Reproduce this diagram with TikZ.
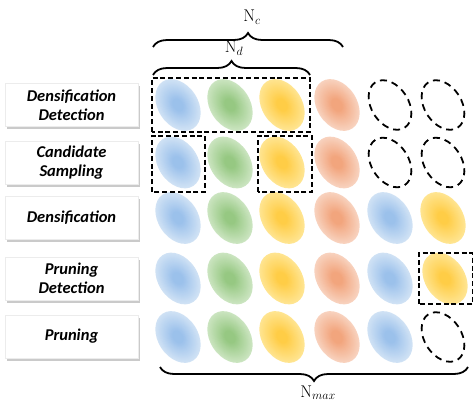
\documentclass[tikz,border=0pt]{standalone}
\usepackage{fontspec}
\newfontfamily\lblfont{Carlito}
\usetikzlibrary{shadows,decorations.pathreplacing}
\definecolor{bIn}{RGB}{155,193,235}\definecolor{bOut}{RGB}{208,226,245}
\definecolor{gIn}{RGB}{150,200,130}\definecolor{gOut}{RGB}{203,229,192}
\definecolor{yIn}{RGB}{255,205,70}\definecolor{yOut}{RGB}{255,229,145}
\definecolor{oIn}{RGB}{242,165,125}\definecolor{oOut}{RGB}{248,210,190}
\tikzset{
  lbl/.style={draw=gray!15, fill=white, minimum width=133pt, minimum height=43pt,
    align=center, font=\lblfont\bfseries\itshape\fontsize{16.5}{19}\selectfont,
    drop shadow={shadow xshift=2pt, shadow yshift=-2.5pt, fill=gray!70, opacity=0.6}},
  dbox/.style={draw=black, line width=1.8pt, dash pattern=on 5pt off 2.8pt},
  dell/.style={draw=black, line width=1.8pt, dash pattern=on 7pt off 5pt},
  brc/.style={draw=black, line width=1.8pt, decorate, decoration={brace, amplitude=14pt}},
  nlab/.style={font=\fontsize{17}{19}\selectfont, inner sep=0pt, anchor=base}
}
\newcommand{\gell}[3]{%
  \foreach \k in {0,...,19}{%
    \pgfmathsetmacro{\p}{\k*100/19}%
    \pgfmathsetmacro{\s}{1-\k/25}%
    \fill[color={#2In!\p!#2Out}, rotate around={-57:(#1)}] (#1) ellipse ({28*\s pt} and {20*\s pt});%
  }}
\newcommand{\dashell}[1]{\draw[dell, rotate around={-57:(#1)}] (#1) ellipse (27pt and 18.5pt);}
\begin{document}
\begin{tikzpicture}[x=1pt,y=1pt]
\useasboundingbox (0,0) rectangle (474,408);
% labels
\node[lbl] (l1) at (71.5,303) {Densification\\Detection};
\node[lbl] (l2) at (71.5,245.5) {Candidate\\Sampling};
\node[lbl] (l3) at (71.5,190) {Densification};
\node[lbl] (l4) at (71.5,129.5) {Pruning\\Detection};
\node[lbl] (l5) at (71.5,71.5) {Pruning};
% row 1
\gell{178,303}{b}{}\gell{230,303}{g}{}\gell{282,303}{y}{}\gell{337,303}{o}{}
\dashell{390,303}\dashell{443,303}
% row 2
\gell{178,245.5}{b}{}\gell{230,245.5}{g}{}\gell{282,245.5}{y}{}\gell{337,245.5}{o}{}
\dashell{390,245.5}\dashell{443,245.5}
% row 3
\gell{178,190}{b}{}\gell{230,190}{g}{}\gell{282,190}{y}{}\gell{337,190}{o}{}\gell{390,190}{b}{}\gell{443,190}{y}{}
% row 4
\gell{178,129.5}{b}{}\gell{230,129.5}{g}{}\gell{282,129.5}{y}{}\gell{337,129.5}{o}{}\gell{390,129.5}{b}{}\gell{445,129.5}{y}{}
% row 5
\gell{178,71}{b}{}\gell{230,71}{g}{}\gell{282,71}{y}{}\gell{337,71}{o}{}\gell{390,71}{b}{}
\dashell{443,71}
% dashed boxes
\draw[dbox] (152,276) rectangle (310,330);
\draw[dbox] (152,216) rectangle (205,272);
\draw[dbox] (258,216) rectangle (312,272);
\draw[dbox] (419,104) rectangle (472.5,155);
% braces
\draw[brc] (153,361) -- (343,361);
\node[nlab] (nc) at (252,386) {N$_c$};
\draw[brc] (153,333) -- (310,333);
\node[nlab] (nd) at (234,355) {N$_d$};
\draw[brc] (468,41) -- (160,41);
\node[nlab] (nm) at (318,11) {N$_{max}$};
\end{tikzpicture}
\end{document}
